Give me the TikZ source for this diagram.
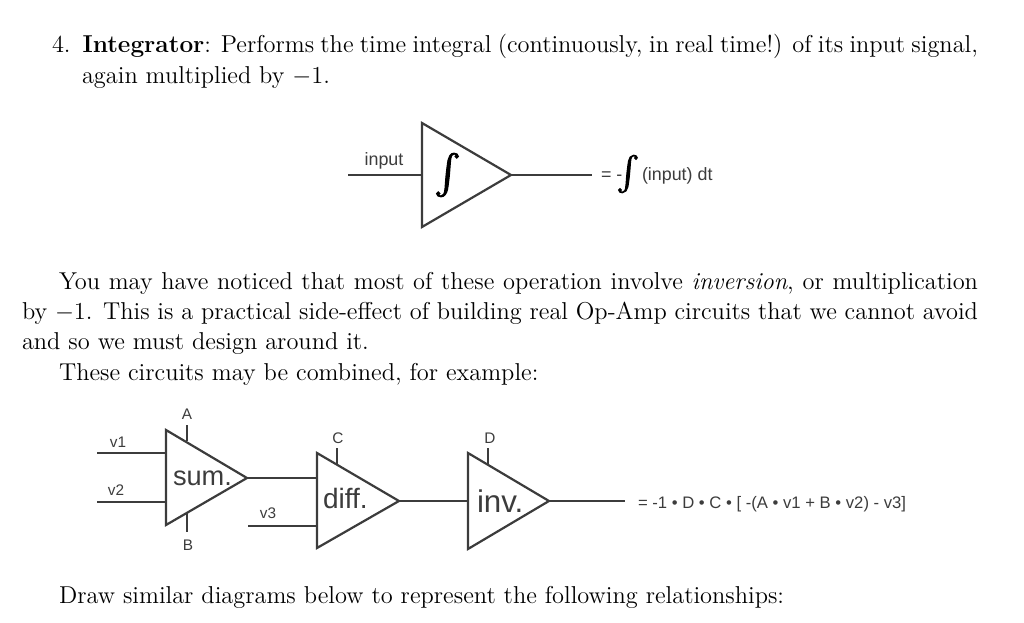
\documentclass[tikz,border=0pt]{standalone}
\usepackage{fontspec}
\newfontfamily\hv{Liberation Sans}
\definecolor{ink}{HTML}{3C3C3C}
\newcommand{\heavyint}{\special{pdf:code 2 Tr 0.28 w}$\textstyle\int$\special{pdf:code 0 Tr 1 w}}
\tikzset{x=0.75pt,y=-0.75pt,
  wire/.style={draw=ink,line width=1.65pt,line join=miter},
  tick/.style={draw=ink,line width=1.4pt},
  para/.style={anchor=base west,inner sep=0pt,outer sep=0pt,text=black,scale=1.525,font=\fontsize{12}{14.5}\selectfont},
  lab/.style={inner sep=0pt,outer sep=0pt,text=ink,font=\hv\fontsize{11.5}{13}\selectfont},
  eqn/.style={inner sep=0pt,outer sep=0pt,anchor=base west,text=ink,font=\hv\fontsize{12.5}{14}\selectfont},
  intg/.style={inner sep=0pt,outer sep=0pt,text=black}}
\begin{document}
\begin{tikzpicture}
\useasboundingbox (0,0) rectangle (1024,623);
% text
\node[para] (t1) at (52,53) {\hbox to 926\dimexpr0.4918pt\relax{4.\hspace{5.9pt}\textbf{Integrator}: Performs the time integral (continuously, in real time!) of its input signal,}};
\node[para] (t2) at (82,84) {again multiplied by $-1$.};
\node[para] (t3) at (59,290) {\hbox to 919\dimexpr0.4918pt\relax{You may have noticed that most of these operation involve \textit{inversion}, or multiplication}};
\node[para] (t4) at (22,320) {\hbox to 956\dimexpr0.4918pt\relax{by $-1$. This is a practical side-effect of building real Op-Amp circuits that we cannot avoid}};
\node[para] (t5) at (22,350) {and so we must design around it.};
\node[para] (t6) at (59,380) {These circuits may be combined, for example:};
\node[para] (t7) at (59,603) {Draw similar diagrams below to represent the following relationships:};
% integrator
\coordinate (iA) at (422,123); \coordinate (iB) at (422,227); \coordinate (iC) at (511,175);
\coordinate (iIn) at (348,175); \coordinate (iInE) at (422,175); \coordinate (iOut) at (592,175);
\draw[wire] (iA) -- (iC) -- (iB) -- cycle;
\draw[wire] (iIn) -- (iInE);
\draw[wire] (iC) -- (iOut);
\node[lab,font=\hv\fontsize{13.4}{15}\selectfont] (input) at (384,161) {input};
\node[intg,scale=2.95] (int) at (447.5,175) {\heavyint};
\node[eqn,font=\hv\fontsize{13.4}{15}\selectfont] (eq1) at (601,181) {= -};
\node[intg,scale=2.55] (int2) at (628,174) {\heavyint};
\node[eqn,font=\hv\fontsize{13.4}{15}\selectfont] (eq1b) at (642,181) {(input) dt};
% sum
\coordinate (sA) at (166,430); \coordinate (sB) at (166,525); \coordinate (sC) at (247,478);
\draw[wire] (sA) -- (sC) -- (sB) -- cycle;
\coordinate (v1a) at (97,453); \coordinate (v1b) at (166,453);
\coordinate (v2a) at (97,502); \coordinate (v2b) at (166,502);
\draw[wire] (v1a) -- (v1b);
\draw[wire] (v2a) -- (v2b);
\node[lab] (v1) at (118,442) {v1};
\node[lab] (v2) at (116,490) {v2};
\coordinate (aT) at (187,425); \coordinate (aB) at (187,441);
\coordinate (bT) at (187,513); \coordinate (bB) at (187,532);
\draw[tick] (aT) -- (aB);
\draw[tick] (bT) -- (bB);
\node[lab] (A) at (187,414) {A};
\node[lab] (B) at (188,545) {B};
\node[lab,anchor=base west,font=\hv\fontsize{20.4}{22}\selectfont] (sum) at (173,485) {sum.};
% diff
\coordinate (dA) at (317,453); \coordinate (dB) at (317,548); \coordinate (dC) at (399,501);
\draw[wire] (dA) -- (dC) -- (dB) -- cycle;
\coordinate (dIn) at (317,478);
\draw[wire] (sC) -- (dIn);
\coordinate (v3a) at (248,526); \coordinate (v3b) at (317,526);
\draw[wire] (v3a) -- (v3b);
\node[lab] (v3) at (268,513) {v3};
\coordinate (cT) at (337,448); \coordinate (cB) at (337,465);
\draw[tick] (cT) -- (cB);
\node[lab] (C) at (338,438) {C};
\node[lab,anchor=base west,font=\hv\fontsize{21}{23}\selectfont] (diff) at (323,508) {diff.};
% inv
\coordinate (nA) at (468,453); \coordinate (nB) at (468,549); \coordinate (nC) at (549,501);
\draw[wire] (nA) -- (nC) -- (nB) -- cycle;
\coordinate (nIn) at (468,501); \coordinate (nOut) at (625,501);
\draw[wire] (dC) -- (nIn);
\draw[wire] (nC) -- (nOut);
\coordinate (dT) at (488,448); \coordinate (dK) at (488,465);
\draw[tick] (dT) -- (dK);
\node[lab] (D) at (490,438) {D};
\node[lab,anchor=base west,font=\hv\fontsize{23.5}{25}\selectfont] (inv) at (477,512) {inv.};
\node[eqn] (eq2) at (638,508) {= -1 • D • C • [ -(A • v1 + B • v2) - v3]};
\end{tikzpicture}
\end{document}
